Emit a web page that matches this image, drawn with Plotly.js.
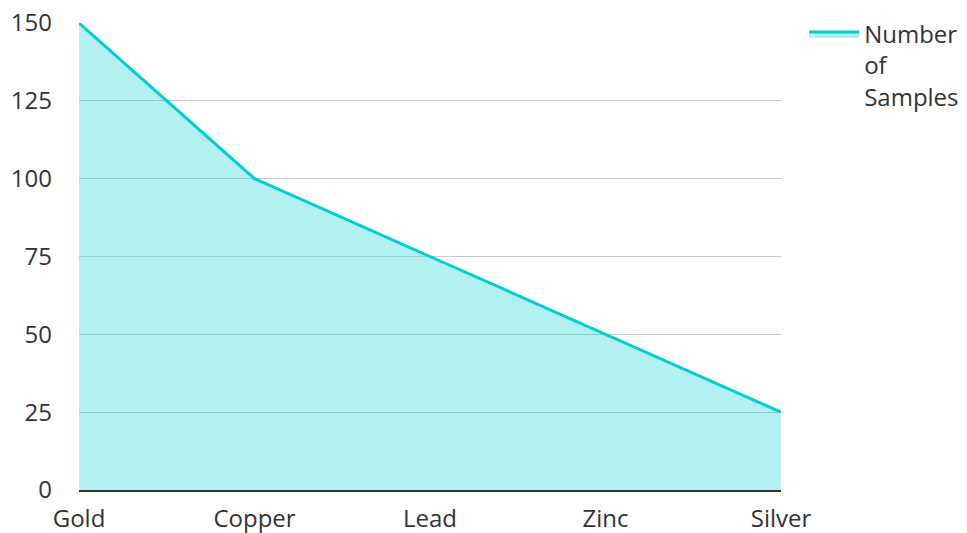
<!DOCTYPE html>
<html><head><meta charset="utf-8">
<script src="https://cdn.plot.ly/plotly-3.0.1.min.js"></script>
<style>body{margin:0;padding:0;}#c{width:967px;height:533px;}</style>
</head><body><div id="c"></div>
<script>
const categories = ["Gold", "Copper", "Lead", "Zinc", "Silver"];
const samples = [150, 100, 75, 50, 25];
const seriesName = "Number<br>of<br>Samples";
const yTicks = [0, 25, 50, 75, 100, 125, 150];

const trace = {
  x: categories, y: samples, name: seriesName, type: 'scatter', mode: 'lines',
  fill: 'tozeroy', fillcolor: 'rgba(0,206,209,0.3)',
  line: {color: '#00CED1', width: 3}
};
const layout = {
  width: 967, height: 533,
  margin: {l: 79, r: 186, t: 23, b: 43, autoexpand: false},
  paper_bgcolor: '#fff', plot_bgcolor: '#fff',
  font: {family: 'Open Sans, sans-serif', size: 24, color: '#333'},
  showlegend: true,
  legend: {x: 1.033, y: 1.024, xanchor: 'left', yanchor: 'top', valign: 'top', itemwidth: 50, font: {size: 24, color: '#333'}},
  xaxis: {type: 'category', range: [0, 4], showgrid: false, showline: true, linecolor: '#333', linewidth: 2,
          ticks: '', ticklabelstandoff: 6, zeroline: false, automargin: false},
  yaxis: {range: [0, 150], tickvals: yTicks, showgrid: true, gridcolor: 'rgba(120,120,120,0.4)', gridwidth: 1,
          zeroline: false, ticks: '', showline: false, ticklabelstandoff: 26, automargin: false}
};
Plotly.newPlot('c', [trace], layout, {displayModeBar: false});
</script></body></html>
